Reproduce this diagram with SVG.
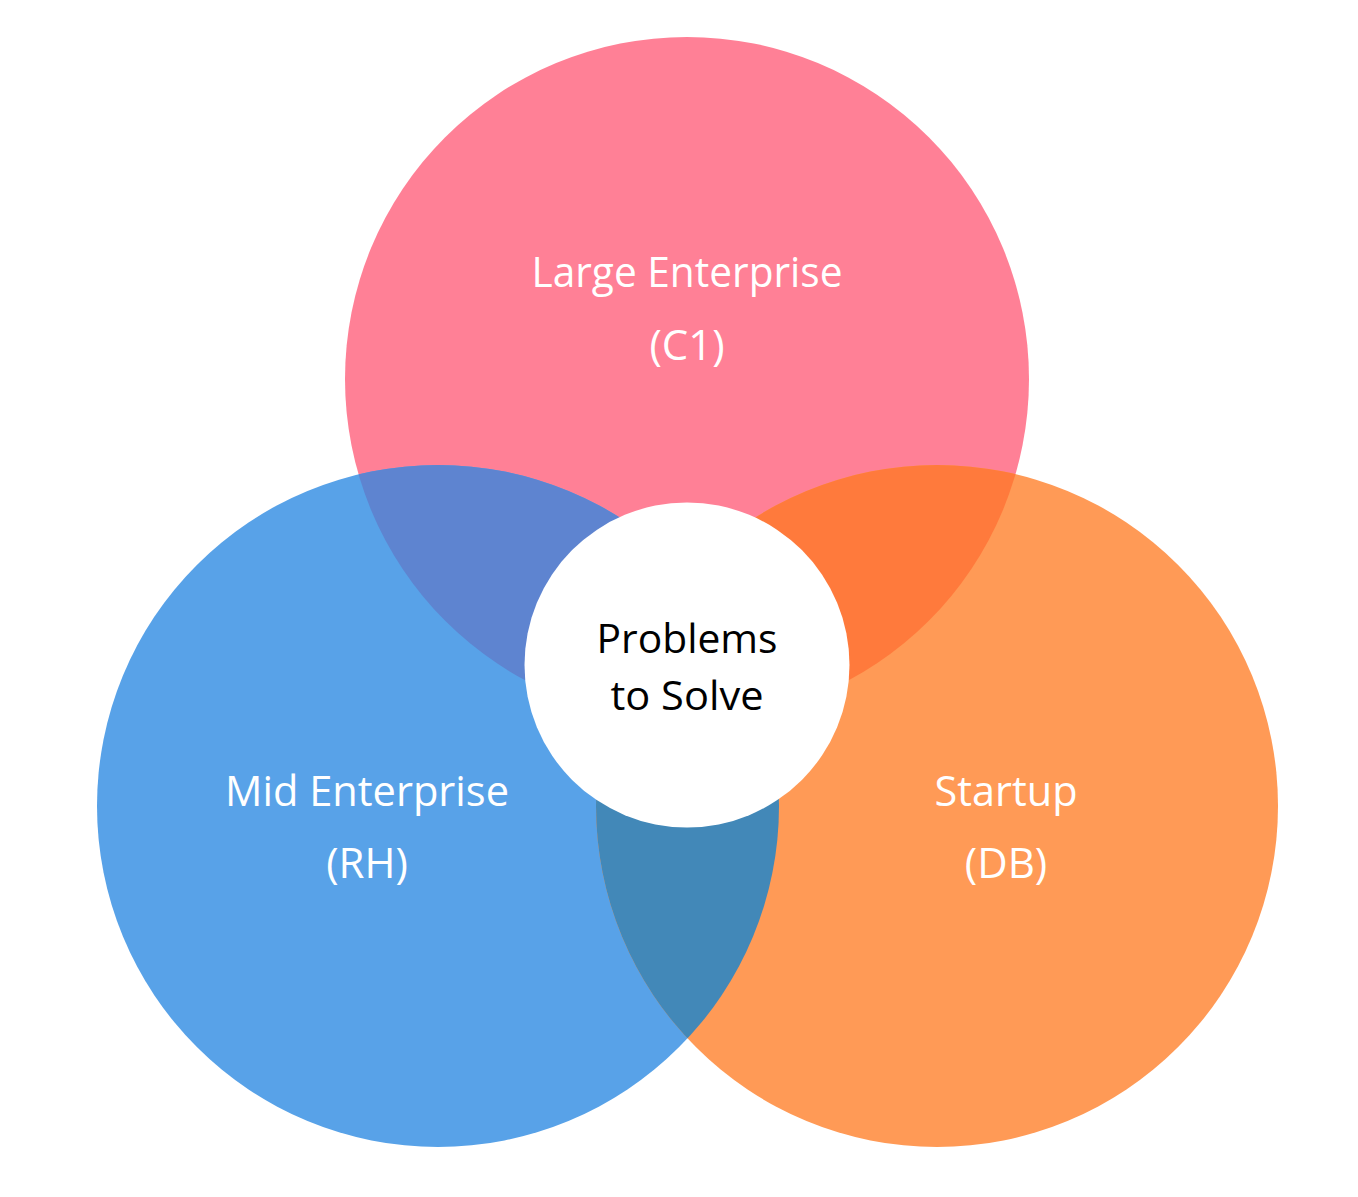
<svg xmlns="http://www.w3.org/2000/svg" width="1358" height="1197" viewBox="0 0 1358 1197">
<style>
.lbl{font-family:"Open Sans","Noto Sans","Liberation Sans",sans-serif;font-size:42px;fill:#ffffff;text-anchor:middle}
.ctr{font-family:"Open Sans","Noto Sans","Liberation Sans",sans-serif;font-size:41px;fill:#000000;text-anchor:middle}
</style>
<defs>
<clipPath id="cPink"><circle cx="687" cy="379" r="342"/></clipPath>
<clipPath id="cBlue"><circle cx="438" cy="806" r="341"/></clipPath>
<clipPath id="cOrange"><circle cx="937" cy="806" r="341"/></clipPath>
</defs>
<rect width="1358" height="1197" fill="#ffffff"/>
<g id="large-enterprise">
<circle cx="687" cy="379" r="342" fill="#FF8096"/>
</g>
<g id="mid-enterprise">
<circle cx="438" cy="806" r="341" fill="#58A2E8"/>
</g>
<g id="startup">
<circle cx="937" cy="806" r="341" fill="#FF9A56"/>
</g>
<g id="overlaps">
<circle cx="438" cy="806" r="341" fill="#5E84D0" clip-path="url(#cPink)"/>
<circle cx="937" cy="806" r="341" fill="#FF7A3C" clip-path="url(#cPink)"/>
<circle cx="937" cy="806" r="341" fill="#4288B8" clip-path="url(#cBlue)"/>
</g>
<g id="problems-to-solve">
<circle cx="687" cy="665" r="162.5" fill="#ffffff"/>
<text class="ctr" x="687" y="653" textLength="181" lengthAdjust="spacingAndGlyphs">Problems</text>
<text class="ctr" x="687" y="710" textLength="153" lengthAdjust="spacingAndGlyphs">to Solve</text>
</g>
<g id="labels">
<text class="lbl" x="687" y="287" textLength="311" lengthAdjust="spacingAndGlyphs">Large Enterprise</text>
<text class="lbl" x="687" y="360">(C1)</text>
<text class="lbl" x="367" y="806" textLength="284" lengthAdjust="spacingAndGlyphs">Mid Enterprise</text>
<text class="lbl" x="367" y="878">(RH)</text>
<text class="lbl" x="1006" y="806" textLength="143" lengthAdjust="spacingAndGlyphs">Startup</text>
<text class="lbl" x="1006" y="878">(DB)</text>
</g>
<g id="connectors"></g>
</svg>
